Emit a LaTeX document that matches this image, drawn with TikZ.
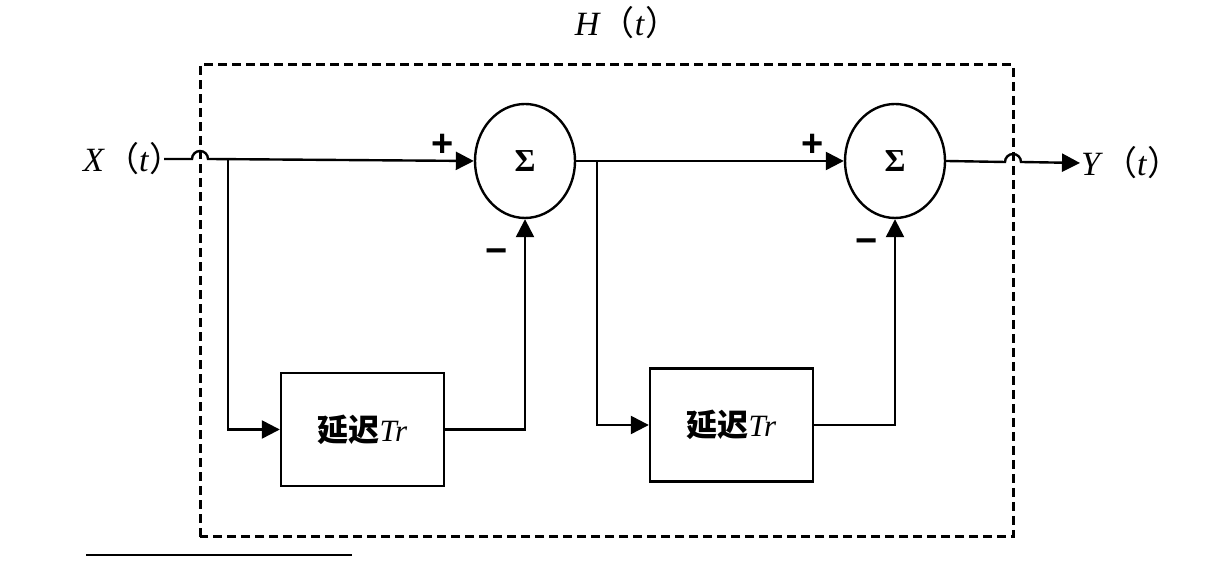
\documentclass[tikz,border=0pt]{standalone}
\usepackage{fontspec}
\setmainfont{Liberation Serif}
\setsansfont{Liberation Sans}
\newfontfamily\cjk{Noto Sans CJK SC}
\usetikzlibrary{positioning, calc, arrows.meta, shapes.geometric}

\begin{document}
\begin{tikzpicture}[x=0.5pt, y=0.5pt, line width=1.2pt,
        sumnode/.style={draw, ellipse, minimum width=50pt, minimum height=57pt, inner sep=0pt,
            font=\fontsize{16}{18}\selectfont\bfseries},
        delaybox/.style={draw, rectangle, minimum width=81.5pt, minimum height=56.5pt, inner sep=0pt,
            font=\fontsize{15.5}{18}\selectfont},
        sigtext/.style={font=\fontsize{17}{20}\selectfont, inner sep=0pt},
        signlbl/.style={font=\fontsize{19}{21}\selectfont\sffamily\bfseries, inner sep=0pt},
        >={Triangle[length=9pt, width=9pt]}]
        \useasboundingbox (0,0) rectangle (1229,576);

        % Khung nét đứt H(t)
        \draw[line width=1.5pt, dash pattern=on 4.5pt off 2.5pt] (200,39) rectangle (1013,511);
        \node[sigtext] (lblH) at (627,553) {\textit{H}{\cjk（}\textit{t}{\cjk）}};

        % Hai bộ cộng
        \node[sumnode] (sum1) at (525,415) {Σ};
        \node[sumnode] (sum2) at (895,415) {Σ};

        % Hai khối trễ
        \node[delaybox] (delay1) at (362.5,146.5) {{\cjk\bfseries 延迟}\textit{Tr}};
        \node[delaybox] (delay2) at (731.5,151) {{\cjk\bfseries 延迟}\textit{Tr}};

        % Tín hiệu vào / ra
        \node[sigtext, anchor=east] (lblX) at (164,417) {\textit{X}{\cjk（}\textit{t}{\cjk）}\kern-0.6em};
        \node[sigtext, anchor=west] (lblY) at (1080,413) {\textit{Y}{\cjk（}\textit{t}{\cjk）}};

        % Dấu + và -
        \node[signlbl] (plus1) at (443,431) {+};
        \node[signlbl] (minus1) at (497,320) {−};
        \node[signlbl] (plus2) at (813,431) {+};
        \node[signlbl] (minus2) at (867,330) {−};

        % Điểm nhảy qua khung và điểm rẽ nhánh
        \coordinate (hopA) at (200,417);
        \coordinate (hopB) at (1013,414);
        \coordinate (br1) at (228,417);
        \coordinate (br2) at (597,415);

        % Nhánh thứ nhất
        \draw[->] (lblX.east) -- ([xshift=-4pt]hopA) arc[start angle=180, end angle=0, radius=4pt] -- (sum1.west);
        \draw[->] (br1) |- (delay1.west);
        \draw[->] (delay1.east) -| (sum1.south);

        % Nhánh thứ hai
        \draw[->] (sum1.east) -- (sum2.west);
        \draw[->] (br2) |- (delay2.west);
        \draw[->] (delay2.east) -| (sum2.south);

        % Đầu ra
        \draw[->] (sum2.east) -- ([xshift=-4pt]hopB) arc[start angle=180, end angle=0, radius=4pt] -- (lblY.west);

        % Đường kẻ dưới cùng
        \draw (86,21) -- (352,21);
    \end{tikzpicture}
\end{document}
